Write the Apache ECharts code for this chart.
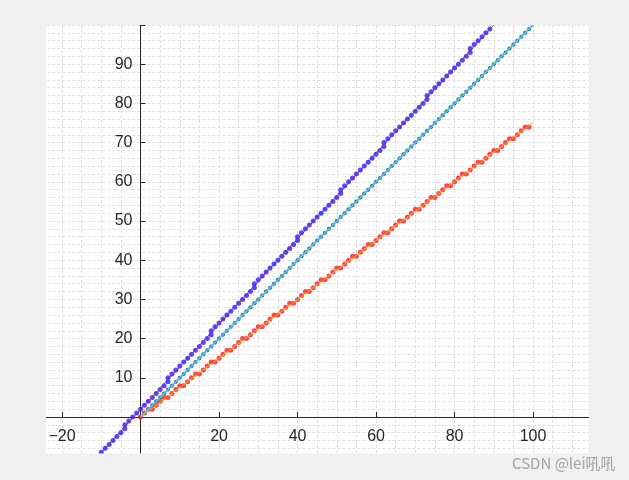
<!DOCTYPE html>
<html>
<head>
<meta charset="utf-8">
<script src="https://cdn.jsdelivr.net/npm/echarts@6/dist/echarts.min.js"></script>
<style>
  html, body { margin: 0; padding: 0; background: #f0f0f0; }
  #lineChar { width: 629px; height: 480px; }
</style>
</head>
<body>
<div id="lineChar"></div>
<script>
  // rasterised points, line 1 (blue dots on purple line)
  var blueX = [-10,-9,-8,-7,-6,-5,-4,-4,-3,-2,-1,0,1,2,3,4,5,6,7,7,8,9,10,11,12,13,14,15,16,17,18,18,
    19,20,21,22,23,24,25,26,27,28,29,29,30,31,32,33,34,35,36,37,38,39,40,40,41,42,43,44,45,46,47,48,49,50,
    51,51,52,53,54,55,56,57,58,59,60,61,62,62,63,64,65,66,67,68,69,70,71,72,73,73,74,75,76,77,78,79,80,81,
    82,83,84,84,85,86,87,88,89]
  var blueY = [-9,-8,-7,-6,-5,-4,-3,-2,-1,0,1,2,3,4,5,6,7,8,9,10,11,12,13,14,15,16,17,18,19,20,21,22,23,
    24,25,26,27,28,29,30,31,32,33,34,35,36,37,38,39,40,41,42,43,44,45,46,47,48,49,50,51,52,53,54,55,56,57,
    58,59,60,61,62,63,64,65,66,67,68,69,70,71,72,73,74,75,76,77,78,79,80,81,82,83,84,85,86,87,88,89,90,91,
    92,93,94,95,96,97,98,99]
  // line 2 (black dots on cyan line)
  var blackX = [0,1,2,3,4,5,6,7,8,9,10,11,12,13,14,15,16,17,18,19,20,21,22,23,24,25,26,27,28,29,30,31,32,
    33,34,35,36,37,38,39,40,41,42,43,44,45,46,47,48,49,50,51,52,53,54,55,56,57,58,59,60,61,62,63,64,65,66,
    67,68,69,70,71,72,73,74,75,76,77,78,79,80,81,82,83,84,85,86,87,88,89,90,91,92,93,94,95,96,97,98,99]
  var blackY = [0,1,2,3,4,5,6,7,8,9,10,11,12,13,14,15,16,17,18,19,20,21,22,23,24,25,26,27,28,29,30,31,32,
    33,34,35,36,37,38,39,40,41,42,43,44,45,46,47,48,49,50,51,52,53,54,55,56,57,58,59,60,61,62,63,64,65,66,
    67,68,69,70,71,72,73,74,75,76,77,78,79,80,81,82,83,84,85,86,87,88,89,90,91,92,93,94,95,96,97,98,99]
  // line 3 (red dots on orange line)
  var redX = [0,1,2,3,4,5,6,7,8,9,10,11,12,13,14,15,16,17,18,19,20,21,22,23,24,25,26,27,28,29,30,31,32,
    33,34,35,36,37,38,39,40,41,42,43,44,45,46,47,48,49,50,51,52,53,54,55,56,57,58,59,60,61,62,63,64,65,66,
    67,68,69,70,71,72,73,74,75,76,77,78,79,80,81,82,83,84,85,86,87,88,89,90,91,92,93,94,95,96,97,98,99]
  var redY = [0,1,2,2,3,4,5,5,6,7,8,8,9,10,11,11,12,13,14,14,15,16,17,17,18,19,20,20,21,22,23,23,24,25,
    26,26,27,28,29,29,30,31,32,32,33,34,35,35,36,37,38,38,39,40,41,41,42,43,44,44,45,46,47,47,48,49,50,50,
    51,52,53,53,54,55,56,56,57,58,59,59,60,61,62,62,63,64,65,65,66,67,68,68,69,70,71,71,72,73,74,74]
  // ideal lines (end points)
  var purpleLine = [[-10, -9], [90, 100]]
  var cyanLine = [[0, 0], [100, 100]]
  var orangeLine = [[0, 0], [100, 75]]
  // ticks and tick labels
  var xTicks = [-20, 20, 40, 60, 80, 100]
  var yTicks = [10, 20, 30, 40, 50, 60, 70, 80, 90, 100]
  var yLabels = [10, 20, 30, 40, 50, 60, 70, 80, 90]

  function zip(xs, ys) {
    var out = []
    for (var i = 0; i < xs.length; i++) {
      out.push([xs[i], ys[i]])
    }
    return out
  }

  var gridLine = { show: true, showMinLine: false, showMaxLine: true,
    lineStyle: { color: '#e0e0e0', width: 1, type: [3, 2] } }
  var labelFont = { fontFamily: 'Liberation Sans', fontSize: 16, color: '#262626' }
  var axisColor = '#262626'

  // grid: x -25..115 over 42.4..591.9, y -10..100 over 456.2..25 ; axes moved to 0 with offset
  var option = {
    backgroundColor: '#f0f0f0',
    animation: false,
    grid: { left: 42.4, right: 37.1, top: 25, bottom: 23.8 },
    xAxis: [
      { type: 'value', min: -25, max: 115, interval: 5,
        axisLine: { show: false, onZero: false }, axisTick: { show: false }, axisLabel: { show: false },
        splitLine: gridLine },
      { type: 'value', min: -25, max: 115, position: 'bottom', offset: -39.2,
        axisLine: { show: true, onZero: false, lineStyle: { color: axisColor, width: 1 } },
        axisTick: { show: true, inside: true, length: 5, customValues: xTicks, lineStyle: { color: axisColor } },
        axisLabel: Object.assign({ show: true, margin: 12, customValues: xTicks,
          formatter: function (v) { return v < 0 ? '\u2212' + Math.abs(v) : String(v) } }, labelFont),
        splitLine: { show: false } }
    ],
    yAxis: [
      { type: 'value', min: -10, max: 100, interval: 2,
        axisLine: { show: false, onZero: false }, axisTick: { show: false }, axisLabel: { show: false },
        splitLine: gridLine },
      { type: 'value', min: -10, max: 100, position: 'left', offset: -98.1,
        axisLine: { show: true, onZero: false, lineStyle: { color: axisColor, width: 1 } },
        axisTick: { show: true, inside: true, length: 5, customValues: yTicks, lineStyle: { color: axisColor } },
        axisLabel: Object.assign({ show: true, margin: 8, customValues: yLabels }, labelFont),
        splitLine: { show: false } }
    ],
    graphic: [
      { type: 'rect', z: -100, shape: { x: 46, y: 25, width: 543, height: 428.5 }, style: { fill: '#ffffff' } },
      { type: 'rect', z: 100, shape: { x: 0, y: 0, width: 46, height: 480 }, style: { fill: '#f0f0f0' } },
      { type: 'rect', z: 100, shape: { x: 589, y: 0, width: 40, height: 480 }, style: { fill: '#f0f0f0' } },
      { type: 'rect', z: 100, shape: { x: 0, y: 0, width: 629, height: 25 }, style: { fill: '#f0f0f0' } },
      { type: 'rect', z: 100, shape: { x: 0, y: 453.5, width: 629, height: 27 }, style: { fill: '#f0f0f0' } },
      { type: 'text', z: 110, left: 512, top: 456,
        style: { text: 'CSDN @lei吼吼', fontFamily: 'Noto Sans CJK SC', fontSize: 15, fill: '#a3a3a3' } }
    ],
    series: [
      { name: 'p1', type: 'scatter', symbol: 'circle', symbolSize: 5, data: zip(blueX, blueY),
        itemStyle: { color: '#2a1cff' } },
      { name: 'p2', type: 'scatter', symbol: 'circle', symbolSize: 4, data: zip(blackX, blackY),
        itemStyle: { color: '#222222' } },
      { name: 'p3', type: 'scatter', symbol: 'circle', symbolSize: 5, data: zip(redX, redY),
        itemStyle: { color: '#ff1a1a' } },
      { name: 'l1', type: 'line', showSymbol: false, data: purpleLine,
        lineStyle: { color: '#7e2f8e', width: 1 } },
      { name: 'l2', type: 'line', showSymbol: false, data: cyanLine,
        lineStyle: { color: '#4dbeee', width: 2 } },
      { name: 'l3', type: 'line', showSymbol: false, data: orangeLine,
        lineStyle: { color: '#edb120', width: 1 } }
    ]
  }

  var myChar = echarts.init(document.getElementById('lineChar'))
  myChar.setOption(option)
</script>
</body>
</html>
